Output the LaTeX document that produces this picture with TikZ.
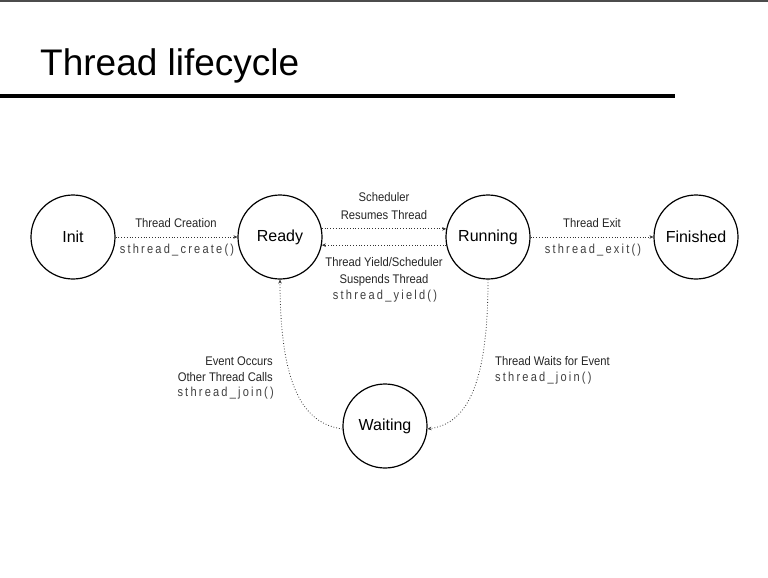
\documentclass[tikz,border=0pt]{standalone}
\usepackage{fontspec}
\setmainfont{Liberation Sans}
\newfontfamily\codefont[LetterSpace=17,FakeStretch=0.85]{Liberation Sans}
\newfontfamily\lblfont[FakeStretch=0.9]{Liberation Sans}
\usetikzlibrary{arrows.meta}
\begin{document}
\begin{tikzpicture}[x=1pt,y=-1pt,
  state/.style={draw=black,line width=1.2pt,circle,minimum size=84pt,inner sep=0pt,font=\fontsize{16}{18}\selectfont},
  flow/.style={draw=black!80,line width=0.8pt,dotted,-{Stealth[length=4pt,width=3.5pt]}},
  lbl/.style={inner sep=0pt,text=black!85,font=\lblfont\fontsize{12.5}{14}\selectfont},
  code/.style={inner sep=0pt,text=black!75,font=\codefont\fontsize{13}{15}\selectfont}]
\useasboundingbox (0,0) rectangle (768,578);
\fill[white] (0,0) rectangle (768,578);
\draw[black!70,line width=2.5pt] (0,1) -- (768,1);
\node[anchor=base west,inner sep=0pt,font=\fontsize{37}{40}\selectfont] (title) at (40,75) {Thread lifecycle};
\draw[black,line width=4pt] (0,96) -- (675,96);

\node[state] (init) at (73,237) {Init};
\node[state] (ready) at (280,237) {Ready};
\node[state] (run) at (488,237) {Running};
\node[state] (fin) at (696,237) {Finished};
\node[state] (wait) at (385,426) {Waiting};

\draw[flow] (init) -- (ready);
\draw[flow] (ready.11) -- (run.169);
\draw[flow] (run.-169) -- (ready.-11);
\draw[flow] (run) -- (fin);
\draw[flow] (run.south) .. controls +(0,115) and +(35,-5) .. (wait.-4);
\draw[flow] (wait.184) .. controls +(-35,-5) and +(0,115) .. (ready.south);

\node[lbl] (l1) at (176,223) {Thread Creation};
\node[code] (c1) at (177,250) {sthread\_create()};
\node[lbl] (l2) at (384,197) {Scheduler};
\node[lbl] (l3) at (384,215) {Resumes Thread};
\node[lbl] (l4) at (384,262) {Thread Yield/Scheduler};
\node[lbl] (l5) at (384,280) {Suspends Thread};
\node[code] (c2) at (385,296) {sthread\_yield()};
\node[lbl] (l6) at (592,223) {Thread Exit};
\node[code] (c3) at (593,250) {sthread\_exit()};
\node[lbl,anchor=west] (l7) at (495,361) {Thread Waits for Event};
\node[code,anchor=west] (c4) at (495,378) {sthread\_join()};
\node[lbl,anchor=east] (l8) at (273,361) {Event Occurs};
\node[lbl,anchor=east] (l9) at (273,377) {Other Thread Calls};
\node[code,anchor=east] (c5) at (274,393) {sthread\_join()};
\end{tikzpicture}
\end{document}
